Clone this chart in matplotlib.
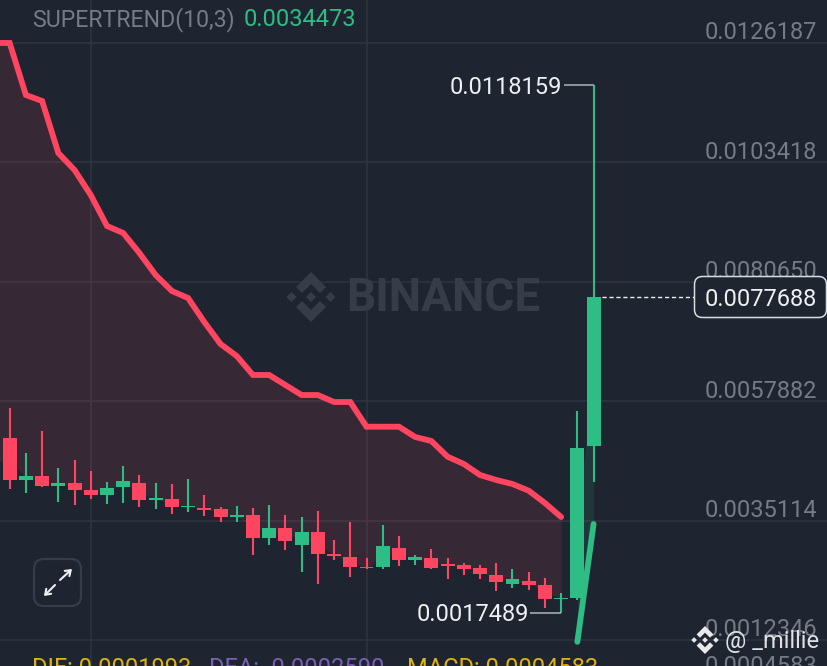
import matplotlib
matplotlib.use("Agg")
import matplotlib.pyplot as plt
import numpy as np
from matplotlib.patches import FancyBboxPatch, Polygon

WIDTH, HEIGHT = 828, 666
BG = "#1e2530"
GRID = "#2e3540"
RED = "#ff4560"
GREEN = "#2ebd85"
GREY = "#757c88"
YELLOW = "#e0b310"
PURPLE = "#7b5fb5"
WHITE = "#eef0f2"

plt.rcParams["font.family"] = ["Roboto", "DejaVu Sans"]

# candles, first one sits just off the left edge
opens = [
    0.004114, 0.005081, 0.004280, 0.004368, 0.004166, 0.004223, 0.004095, 0.004005, 0.004152, 0.004234,
    0.003898, 0.003923, 0.003765, 0.003757, 0.003738, 0.003574, 0.003618, 0.003185, 0.003370, 0.003052,
    0.003294, 0.002874, 0.002812, 0.002632, 0.002632, 0.002989, 0.002766, 0.002792, 0.002684, 0.002665,
    0.002613, 0.002474, 0.002308, 0.002365, 0.002289, 0.002016, 0.002041, 0.004934,
]
closes = [
    0.005106, 0.004280, 0.004368, 0.004166, 0.004229, 0.004101, 0.004000, 0.004133, 0.004261, 0.003904,
    0.003937, 0.003765, 0.003796, 0.003719, 0.003574, 0.003624, 0.003185, 0.003365, 0.003128, 0.003294,
    0.002869, 0.002836, 0.002632, 0.002602, 0.003021, 0.002766, 0.002823, 0.002602, 0.002640, 0.002588,
    0.002493, 0.002335, 0.002392, 0.002289, 0.002011, 0.002041, 0.004901, 0.007769,
]
highs = [
    0.005106, 0.005653, 0.004795, 0.005226, 0.004509, 0.004661, 0.004457, 0.004242, 0.004558, 0.004387,
    0.004223, 0.004204, 0.004299, 0.004000, 0.003771, 0.003784, 0.003757, 0.003803, 0.003624, 0.003574,
    0.003700, 0.003141, 0.003485, 0.002792, 0.003427, 0.003223, 0.002855, 0.002970, 0.002798, 0.002697,
    0.002659, 0.002697, 0.002588, 0.002526, 0.002411, 0.002125, 0.005607, 0.011816,
]
lows = [
    0.004114, 0.004108, 0.004032, 0.004158, 0.003872, 0.003809, 0.003929, 0.003828, 0.003841, 0.003765,
    0.003738, 0.003643, 0.003681, 0.003605, 0.003479, 0.003479, 0.002850, 0.003052, 0.002957, 0.002537,
    0.002297, 0.002760, 0.002430, 0.002583, 0.002594, 0.002651, 0.002659, 0.002583, 0.002398, 0.002474,
    0.002392, 0.002163, 0.002232, 0.002182, 0.001850, 0.001749, 0.001997, 0.004253,
]

# supertrend while bearish (first 36 candles), then bullish for the last two
trend_down = [
    0.012619, 0.012619, 0.011627, 0.011513, 0.010521, 0.010197, 0.009720, 0.009129, 0.008996, 0.008614,
    0.008195, 0.007890, 0.007756, 0.007298, 0.006879, 0.006650, 0.006288, 0.006288, 0.006097, 0.005906,
    0.005906, 0.005773, 0.005773, 0.005302, 0.005302, 0.005302, 0.005106, 0.005029, 0.004730, 0.004591,
    0.004381, 0.004286, 0.004209, 0.004082, 0.003847, 0.003580,
]
trend_up = [0.001200, 0.003447]

grid_prices = [0.0126187, 0.0103418, 0.0080650, 0.0057882, 0.0035114, 0.0012346]
grid_labels = ["0.0126187", "0.0103418", "0.0080650", "0.0057882", "0.0035114", "0.0012346"]
grid_index = [5, 22]

last_price = 0.0077688
max_price = 0.0118159
min_price = 0.0017489

opens = np.array(opens)
closes = np.array(closes)
highs = np.array(highs)
lows = np.array(lows)
x = np.arange(len(opens)) - 1
mid = (opens + closes) / 2

fig = plt.figure(figsize=(WIDTH / 100, HEIGHT / 100), dpi=100, facecolor=BG)
ax = fig.add_axes([0, 0, 1, 1], facecolor=BG)
ax.set_xlim(-9.67 / 16.22, (WIDTH - 9.67) / 16.22)
# 119.4 px between two grid lines
per_px = (0.0103418 - 0.0080650) / 119.4
ax.set_ylim(0.0126187 - (HEIGHT - 43) * per_px, 0.0126187 + 43 * per_px)
ax.axis("off")

for p in grid_prices:
    ax.axhline(p, color=GRID, lw=1.1, zorder=1)
for i in grid_index:
    ax.axvline(i, color=GRID, lw=1.1, zorder=1)

# fills between the trend line and candle middles
n_down = len(trend_down)
ax.fill_between(x[:n_down], trend_down, mid[:n_down], color="#ff4560", alpha=0.11, lw=0, zorder=2)
ax.fill_between(x[n_down:], trend_up, mid[n_down:], color=GREEN, alpha=0.12, lw=0, zorder=2)

colors = [GREEN if c >= o else RED for o, c in zip(opens, closes)]
ax.vlines(x, lows, highs, colors=colors, lw=1.5, zorder=3)
ax.bar(x, closes - opens, bottom=opens, width=0.86, color=colors, lw=0, zorder=3)

ax.plot(x[:n_down], trend_down, color=RED, lw=4.2, solid_capstyle="round", solid_joinstyle="miter", zorder=4)
ax.plot(x[n_down:], trend_up, color=GREEN, lw=4.2, solid_capstyle="round", zorder=4)

# overlay in pixels for the app chrome
ui = fig.add_axes([0, 0, 1, 1], facecolor="none")
ui.set_xlim(0, WIDTH)
ui.set_ylim(HEIGHT, 0)
ui.axis("off")


def draw_logo(cx, cy, r, color, zorder=6):
    s = 0.2
    for dx, dy in [(0, 0), (-0.78, 0), (0.78, 0)]:
        pts = [(dx, dy - s), (dx + s, dy), (dx, dy + s), (dx - s, dy)]
        ui.add_patch(Polygon([(cx + a * r, cy + b * r) for a, b in pts], color=color, lw=0, zorder=zorder))
    for sign in (-1, 1):
        pts = [(0, -1), (0.6, -0.4), (0.36, -0.16), (0, -0.52), (-0.36, -0.16), (-0.6, -0.4)]
        ui.add_patch(Polygon([(cx + a * r, cy + sign * b * r) for a, b in pts], color=color, lw=0, zorder=zorder))


FS = 17
transform = ax.get_yaxis_transform()
for p, label in zip(grid_prices, grid_labels):
    ax.annotate(label, xy=(817 / WIDTH, p), xycoords=transform, xytext=(0, 2.6), textcoords="offset points",
                ha="right", va="baseline", color=GREY, fontsize=FS, zorder=5)
ui.text(817, 673, "0.0004583", ha="right", va="baseline", color=GREY, fontsize=FS)

ui.text(32, 26, "SUPERTREND(10,3)", ha="left", va="baseline", color=GREY, fontsize=16.7)
ui.text(244, 26, "0.0034473", ha="left", va="baseline", color=GREEN, fontsize=FS)

ui.text(32, 675, "DIF: 0.0001993", ha="left", va="baseline", color=YELLOW, fontsize=FS)
ui.text(209, 675, "DEA: -0.0002590", ha="left", va="baseline", color=PURPLE, fontsize=FS)
ui.text(407, 675, "MACD: 0.0004583", ha="left", va="baseline", color=YELLOW, fontsize=FS)

# current price pill
ax.hlines(last_price, 36.5, 42.3, color=WHITE, lw=1, linestyles=(0, (3, 2)), zorder=5)
ui.add_patch(FancyBboxPatch((694.5, 276.5), 132, 41, boxstyle="round,pad=0,rounding_size=8",
                            fc=BG, ec="#d8dbe0", lw=1.1, zorder=6))
ui.text(817, 306, "0.0077688", ha="right", va="baseline", color=WHITE, fontsize=FS, zorder=7)

# extremes
ax.hlines(max_price, 34.2, 36, color="#b0b4ba", lw=1.1, zorder=5)
ui.text(562, 94, "0.0118159", ha="right", va="baseline", color=WHITE, fontsize=FS, zorder=7)
ax.hlines(min_price, 32.1, 34, color="#b0b4ba", lw=1.1, zorder=5)
ui.text(529, 621, "0.0017489", ha="right", va="baseline", color=WHITE, fontsize=FS, zorder=7)

# watermark
draw_logo(311, 297, 25, "#363d48", zorder=2)
ui.text(346, 311, "BINANCE", ha="left", va="baseline", color="#363d48", fontsize=33, fontweight="bold", zorder=2)

# expand button
ui.add_patch(FancyBboxPatch((34, 559), 47, 47, boxstyle="round,pad=0,rounding_size=10",
                            fc="none", ec="#363d48", lw=1.6, zorder=6))
for start, end in [((60, 580), (72, 569)), ((55, 585), (44, 596))]:
    ui.annotate("", xy=end, xytext=start, zorder=7,
                arrowprops=dict(arrowstyle="->,head_length=0.35,head_width=0.25", color=WHITE, lw=1.5,
                                shrinkA=0, shrinkB=0))

# user stamp
draw_logo(705, 640, 14, "#e6e8ea", zorder=8)
ui.text(725, 648, "@ _millie", ha="left", va="baseline", color="#dfe1e4", fontsize=17, zorder=8)

fig.savefig("out.png", dpi=100, facecolor=BG)
